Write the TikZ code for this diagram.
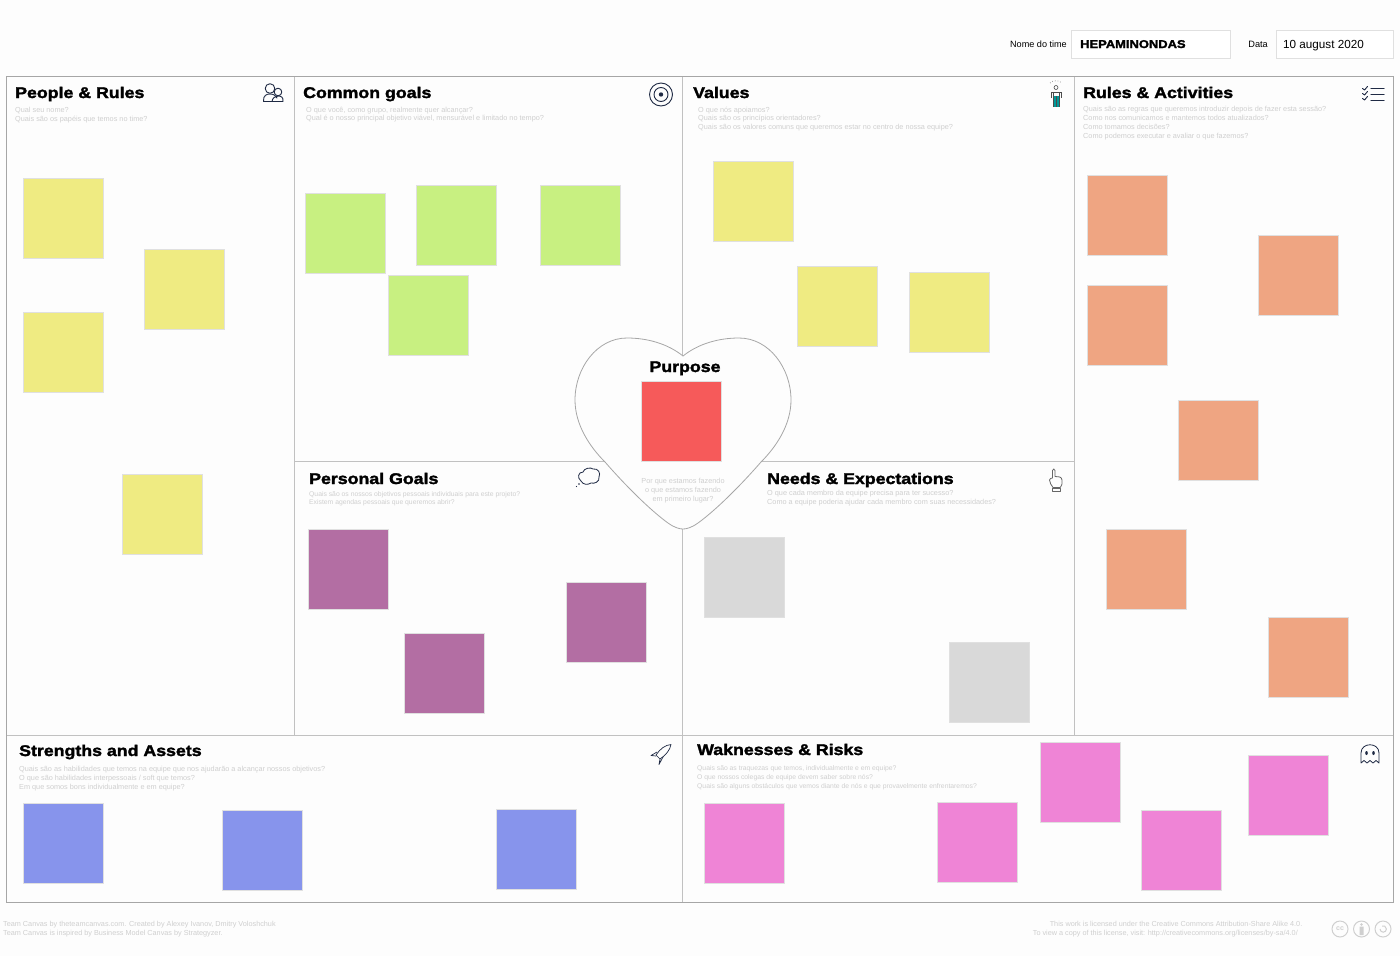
\documentclass[tikz,border=0pt]{standalone}
\usepackage{fontspec}
\setmainfont{Liberation Sans}
\newfontfamily\titlefont[FakeBold=2,FakeStretch=1.145]{Liberation Sans}
\definecolor{paper}{HTML}{FDFDFD}
\definecolor{frameline}{HTML}{A6A6A6}
\definecolor{hintgray}{HTML}{CFCFCF}
\definecolor{iconblue}{HTML}{1F2A44}
\definecolor{noteyellow}{HTML}{EFEB82}
\definecolor{notegreen}{HTML}{C8F081}
\definecolor{noteorange}{HTML}{EFA582}
\definecolor{notepurple}{HTML}{B36EA3}
\definecolor{notegray}{HTML}{D9D9D9}
\definecolor{noteblue}{HTML}{8794EC}
\definecolor{notepink}{HTML}{EF84D6}
\definecolor{notered}{HTML}{F65A5A}
\tikzset{
  sticky/.style={anchor=north west,minimum size=80pt,inner sep=0pt,draw=black!12,line width=0.4pt,xshift=-0.4pt,yshift=0.4pt},
  boxtitle/.style={anchor=base west,inner sep=0pt,font=\titlefont\bfseries\fontsize{15.5}{18}\selectfont},
  hint/.style={anchor=north west,inner sep=0pt,align=left,text=hintgray,font=\fontsize{7.3}{8.8}\selectfont},
  smallhint/.style={hint,font=\fontsize{6.8}{8.8}\selectfont},
  footnote/.style={inner sep=0pt,text=hintgray,font=\fontsize{7.27}{9}\selectfont},
  field/.style={anchor=north west,minimum height=28pt,inner sep=0pt,draw=black!12,fill=white,line width=0.8pt},
  icon/.style={draw=iconblue,line width=0.9pt,line cap=round,line join=round},
  ccicon/.style={draw=hintgray,line width=1pt}
}
\begin{document}
\begin{tikzpicture}[x=1pt,y=-1pt]
\useasboundingbox [fill=paper] (0,0) rectangle (1400,956);

% header
\node [anchor=base east,inner sep=0pt,font=\fontsize{9.1}{10}\selectfont] (teamlabel) at (1067,47) {Nome do time};
\node [field,minimum width=159pt] (teamfield) at (1071,30) {};
\node [anchor=base west,inner sep=0pt,font=\titlefont\bfseries\fontsize{11.3}{13}\selectfont] (teamname) at (1080,48) {HEPAMINONDAS};
\node [anchor=base east,inner sep=0pt,font=\fontsize{9.2}{10}\selectfont] (datelabel) at (1268,47) {Data};
\node [field,minimum width=117pt] (datefield) at (1276,30) {};
\node [anchor=base west,inner sep=0pt,font=\fontsize{11.7}{13}\selectfont] (datetext) at (1283,48) {10 august 2020};

% canvas
\draw [frameline,line width=1pt,fill=paper] (6.8,76.8) rectangle (1393,902);
\draw [frameline!70,line width=1pt] (294.8,76.8) -- (294.8,735.8);
\draw [frameline!70,line width=1pt] (682.8,76.8) -- (682.8,902);
\draw [frameline!70,line width=1pt] (1074.8,76.8) -- (1074.8,735.8);
\draw [frameline!70,line width=1pt] (294.8,461.8) -- (1074.8,461.8);
\draw [frameline!70,line width=1pt] (6.8,735.8) -- (1393,735.8);

% heart
\draw [frameline,line width=0.8pt,fill=paper] (683,356)
  .. controls (668,344) and (648,338) .. (627,338)
  .. controls (597,338) and (575,368) .. (575,400)
  .. controls (575,425) and (590,447) .. (605,462)
  .. controls (625,485) and (650,510) .. (668,523)
  .. controls (675,528) and (680,529) .. (683,529)
  .. controls (686,529) and (691,528) .. (698,523)
  .. controls (716,510) and (741,485) .. (761,462)
  .. controls (776,447) and (791,425) .. (791,400)
  .. controls (791,368) and (769,338) .. (739,338)
  .. controls (718,338) and (698,344) .. (683,356) -- cycle;

% titles
\node [boxtitle] (people) at (15,98) {People \& Rules};
\node [boxtitle] (goals) at (303,98) {Common goals};
\node [boxtitle] (values) at (693,98) {Values};
\node [boxtitle] (rules) at (1083,98) {Rules \& Activities};
\node [boxtitle] (personal) at (309,484) {Personal Goals};
\node [boxtitle] (needs) at (767,484) {Needs \& Expectations};
\node [boxtitle] (strengths) at (19,756) {Strengths and Assets};
\node [boxtitle] (risks) at (697,755) {Waknesses \& Risks};
\node [boxtitle,anchor=base] (purpose) at (685,372) {Purpose};

% questions
\node [hint] (peoplehint) at (15,107.5) {Qual seu nome?\\Quais são os papéis que temos no time?};
\node [hint] (goalshint) at (306,106.5) {O que você, como grupo, realmente quer alcançar?\\Qual é o nosso principal objetivo viável, mensurável e limitado no tempo?};
\node [hint] (valueshint) at (698,106.5) {O que nós apoiamos?\\Quais são os princípios orientadores?\\Quais são os valores comuns que queremos estar no centro de nossa equipe?};
\node [hint] (ruleshint) at (1083,106.5) {Quais são as regras que queremos introduzir depois de fazer esta sessão?\\Como nos comunicamos e mantemos todos atualizados?\\Como tomamos decisões?\\Como podemos executar e avaliar o que fazemos?};
\node [smallhint] (personalhint) at (309,491) {Quais são os nossos objetivos pessoais individuais para este projeto?\\Existem agendas pessoais que queremos abrir?};
\node [hint] (needshint) at (767,490.5) {O que cada membro da equipe precisa para ter sucesso?\\Como a equipe poderia ajudar cada membro com suas necessidades?};
\node [hint] (strengthshint) at (19,766) {Quais são as habilidades que temos na equipe que nos ajudarão a alcançar nossos objetivos?\\O que são habilidades interpessoais / soft que temos?\\Em que somos bons individualmente e em equipe?};
\node [smallhint] (riskshint) at (697,765.5) {Quais são as traquezas que temos, individualmente e em equipe?\\O que nossos colegas de equipe devem saber sobre nós?\\Quais são alguns obstáculos que vemos diante de nós e que provavelmente enfrentaremos?};
\node [hint,anchor=north,align=center] (purposehint) at (683,478.5) {Por que estamos fazendo\\o que estamos fazendo\\em primeiro lugar?};

% notes
\foreach \n/\x/\y in {1/23/178,2/144/249,3/23/312,4/122/474,5/713/161,6/797/266,7/909/272}
  \node [sticky,fill=noteyellow] (yellow\n) at (\x,\y) {};
\foreach \n/\x/\y in {1/305.5/193,2/416/185,3/540/185,4/388.5/275}
  \node [sticky,fill=notegreen] (green\n) at (\x,\y) {};
\foreach \n/\x/\y in {1/1087/175,2/1258/235,3/1087/285,4/1178/400,5/1106/529,6/1268/617}
  \node [sticky,fill=noteorange] (orange\n) at (\x,\y) {};
\foreach \n/\x/\y in {1/308/529,2/404/633,3/566.5/582}
  \node [sticky,fill=notepurple] (purple\n) at (\x,\y) {};
\foreach \n/\x/\y in {1/704/537,2/949.5/642}
  \node [sticky,fill=notegray] (gray\n) at (\x,\y) {};
\foreach \n/\x/\y in {1/23.5/803,2/222.5/810,3/496.5/809}
  \node [sticky,fill=noteblue] (blue\n) at (\x,\y) {};
\foreach \n/\x/\y in {1/704/803,2/937/802,3/1040/742,4/1141/810,5/1248.5/755}
  \node [sticky,fill=notepink] (pink\n) at (\x,\y) {};
\node [sticky,fill=notered] (red1) at (641.5,381) {};

% icons
\draw [icon] (270,88.5) circle (4.8);
\draw [icon] (263.5,101.5) .. controls (263,95) and (267,94) .. (270,94) .. controls (274,94) and (276,96) .. (277,98);
\draw [icon] (278,92) circle (3.8);
\draw [icon] (263.5,101.5) -- (283,101.5) .. controls (283.5,97) and (281,96) .. (278,96) .. controls (275,96) and (272.5,98) .. (272,101.5);
\draw [icon] (661,94.5) circle (11.5);
\draw [icon] (661,94.5) circle (7);
\fill [iconblue] (661,94.5) circle (2.2);
\draw [black!50,line width=0.7pt,dotted] (1050,83) .. controls (1053,80) and (1059,80) .. (1062,83);
\draw [black!70,line width=0.6pt] (1056,87.5) circle (2);
\fill [teal!80!cyan] (1053,96) rectangle (1059,107);
\draw [black!70,line width=0.6pt] (1051,98) -- (1051,92.5) -- (1061,92.5) -- (1061,98) (1053,92.5) -- (1053,107) (1059,92.5) -- (1059,107) (1056,96) -- (1056,107);
\foreach \y in {90,95,100}
  \draw [icon] (1362.5,\y-1.5) -- (1364.5,\y) -- (1367.5,\y-3.5);
\foreach \y in {88.5,94.5,100.5}
  \draw [icon,line width=1.1pt] (1371,\y) -- (1384,\y);
\draw [icon,line width=0.8pt] (581,481) .. controls (577,478) and (578,472) .. (583,472)
  .. controls (584,468) and (591,467) .. (593,469) .. controls (598,468) and (601,473) .. (599,477)
  .. controls (600,482) and (594,484) .. (591,483) .. controls (588,485) and (583,485) .. (581,481) -- cycle;
\fill [iconblue] (579,484) circle (0.9) (576.5,486.5) circle (0.7);
\draw [icon,black!60,line width=0.8pt] (1052.5,478) -- (1052.5,470.5) .. controls (1052.5,468.5) and (1055,468.5) .. (1055,470.5) -- (1055,476.5)
  .. controls (1058,476) and (1062,477) .. (1062,480) -- (1062,484) .. controls (1062,486) and (1060,487) .. (1060,487.5) -- (1053,487.5)
  .. controls (1052,485) and (1049,483) .. (1049.5,480) .. controls (1050,478.5) and (1051,478) .. (1052.5,478) -- cycle;
\draw [icon,black!60,line width=0.8pt] (1052.5,488.5) rectangle (1060,491.5);
\draw [icon,line width=0.7pt] (671,744.5) .. controls (665,745) and (660,749) .. (656,755) -- (660,759) .. controls (666,755) and (670,750) .. (671,744.5) -- cycle;
\draw [icon,line width=0.7pt] (657,752) -- (651,755.5) -- (656,756) (660,759) -- (659,764.5) -- (663,757);
\draw [icon,line width=0.8pt] (1361,763) -- (1361,753) .. controls (1361,742) and (1379,742) .. (1379,753) -- (1379,763) -- (1376,760.5) -- (1373,763) -- (1370,760.5) -- (1367,763) -- (1364,760.5) -- cycle;
\fill [iconblue] (1366.5,753) ellipse (1.3 and 2) (1373.5,753) ellipse (1.3 and 2);

% footer
\node [footnote,anchor=north west,align=left] (credits) at (3,921.5) {Team Canvas by theteamcanvas.com. Created by Alexey Ivanov, Dmitry Voloshchuk\\Team Canvas is inspired by Business Model Canvas by Strategyzer.};
\node [footnote,anchor=north east,align=right] (licence) at (1302.5,921) {This work is licensed under the Creative Commons Attribution-Share Alike 4.0.\\To view a copy of this license, visit: http://creativecommons.org/licenses/by-sa/4.0/\hspace*{4.5pt}};
\foreach \x in {1340,1361.5,1383}
  \draw [ccicon] (\x,929) circle (8);
\node [inner sep=0pt,text=hintgray,font=\bfseries\fontsize{7}{8}\selectfont] (ccmark) at (1340,929) {cc};
\fill [hintgray] (1361.5,924.5) circle (1.3) (1359.5,926.5) rectangle (1363.5,935);
\draw [ccicon] (1380,929) arc (180:-110:3.2);
\end{tikzpicture}
\end{document}
